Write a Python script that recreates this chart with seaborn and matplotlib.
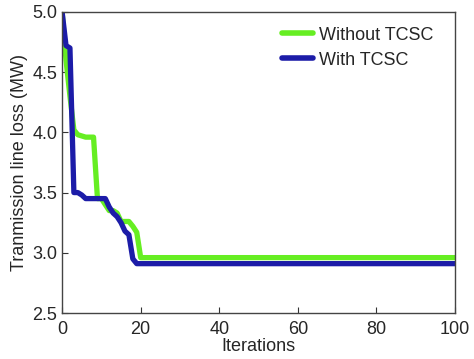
import matplotlib
matplotlib.use("Agg")
import matplotlib.pyplot as plt
import seaborn as sns
import pandas as pd
import numpy as np

iterations = list(range(0, 101))
without_tcsc = [5.0, 4.6, 4.3, 4.02, 3.98, 3.97, 3.96, 3.96, 3.96, 3.45,
                3.45, 3.4, 3.35, 3.35, 3.33, 3.26, 3.26, 3.26, 3.22, 3.17,
                2.96] + [2.96] * 80
with_tcsc = [5.0, 4.72, 4.70, 3.5, 3.5, 3.48, 3.45, 3.45, 3.45, 3.45,
             3.45, 3.45, 3.38, 3.33, 3.3, 3.25, 3.18, 3.15, 2.95, 2.91,
             2.91] + [2.91] * 80

df = pd.DataFrame({
    "Iterations": iterations * 2,
    "loss": without_tcsc + with_tcsc,
    "series": ["Without TCSC"] * 101 + ["With TCSC"] * 101,
})

sns.set_style("ticks")
plt.rcParams["font.family"] = ["Liberation Sans", "DejaVu Sans"]
plt.rcParams["xtick.direction"] = "in"
plt.rcParams["ytick.direction"] = "in"

fig = plt.figure(figsize=(4.74, 3.59), dpi=100)
ax = fig.add_axes([0.131, 0.128, 0.829, 0.839])
sns.lineplot(data=df, x="Iterations", y="loss", hue="series",
             palette={"Without TCSC": "#66ee22", "With TCSC": "#1c1ca8"},
             linewidth=3.8, ax=ax)
ax.set_xlim(0, 100)
ax.set_ylim(2.5, 5.0)
ax.set_xticks([0, 20, 40, 60, 80, 100])
ax.set_yticks([2.5, 3.0, 3.5, 4.0, 4.5, 5.0])
ax.set_yticklabels(["2.5", "3.0", "3.5", "4.0", "4.5", "5.0"])
ax.tick_params(labelsize=13, length=4, color="#333333")
ax.tick_params(axis="x", pad=6)
ax.set_xlabel("Iterations", fontsize=13, labelpad=0)
ax.set_ylabel("Tranmission line loss (MW)", fontsize=13, labelpad=3)
for s in ax.spines.values():
    s.set_visible(True)
    s.set_color("#444444")
    s.set_linewidth(1.0)
leg = ax.legend(loc="upper right", frameon=False, fontsize=13,
                handlelength=1.7, handletextpad=0.3, labelspacing=0.45,
                bbox_to_anchor=(0.985, 1.005))
for line in leg.get_lines():
    line.set_linewidth(4)
fig.savefig("out.png", dpi=100)
